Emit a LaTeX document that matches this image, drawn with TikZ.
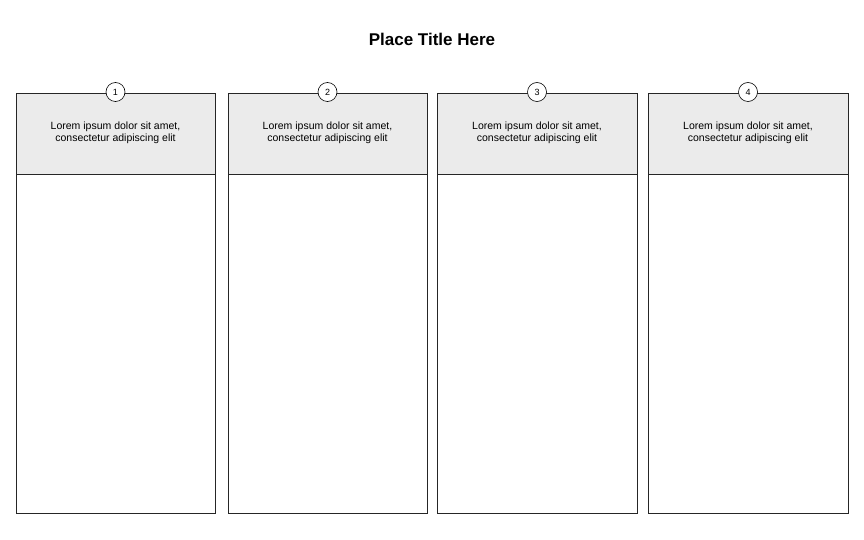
\documentclass[tikz,border=0pt]{standalone}
\usepackage{fontspec}
\setmainfont{Liberation Sans}
\begin{document}
\begin{tikzpicture}[x=1pt,y=-1pt,
  colbox/.style={draw=black!85,line width=0.6pt,fill=white},
  headbox/.style={draw=black!85,line width=0.6pt,fill=black!8},
  numc/.style={circle,draw=black,fill=white,line width=0.6pt,minimum size=19pt,inner sep=0pt,font=\fontsize{9}{10}\selectfont},
  headtxt/.style={align=center,font=\fontsize{10.5}{12.5}\selectfont}]
\useasboundingbox (0,0) rectangle (864,540);
\node[font=\bfseries\fontsize{17}{20}\selectfont] (title) at (432,39) {Place Title Here};
\foreach \i/\l/\r in {1/16/215,2/228/427,3/437/637,4/648/848}{
  \draw[colbox] (\l,93) rectangle (\r,513);
  \draw[headbox] (\l,93) rectangle (\r,174);
  \node[headtxt] (h\i) at ({(\l+\r)/2},133) {Lorem ipsum dolor sit amet,\\consectetur adipiscing elit};
  \node[numc] (n\i) at ({(\l+\r)/2},92) {\i};
}
\end{tikzpicture}
\end{document}
